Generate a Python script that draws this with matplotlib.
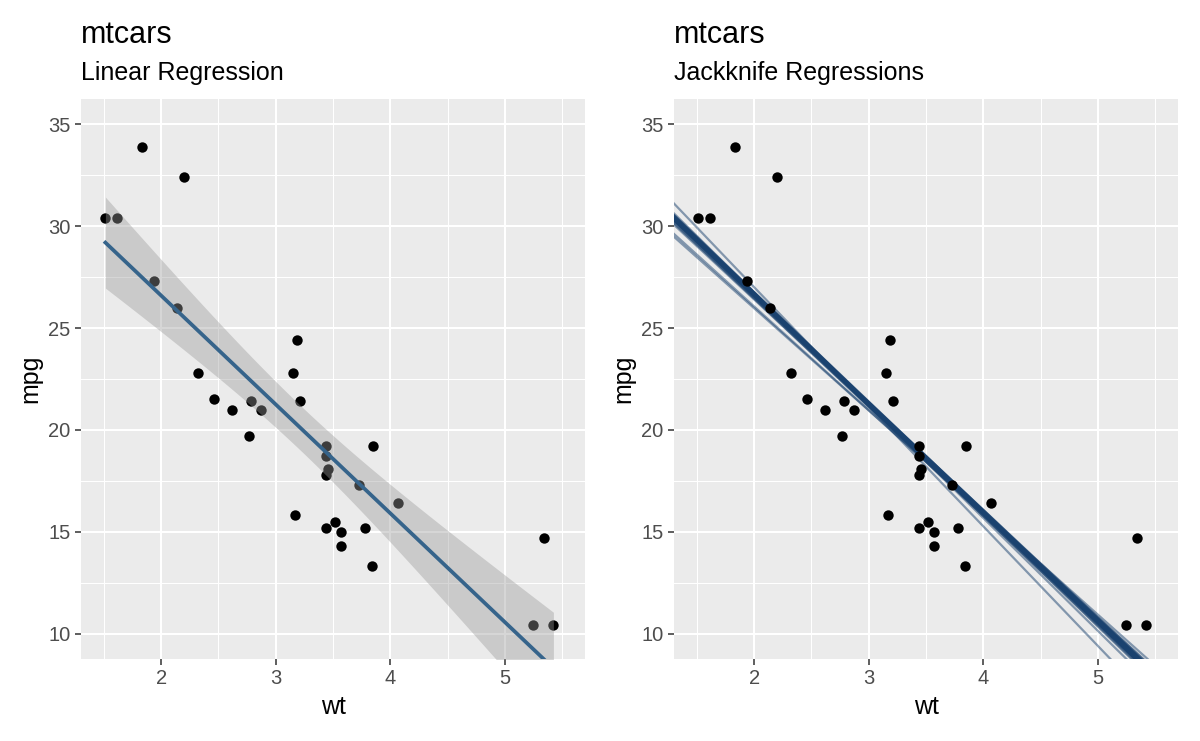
import numpy as np
import matplotlib
matplotlib.use("Agg")
import matplotlib.pyplot as plt
from matplotlib.ticker import MultipleLocator

# mtcars: weight (1000 lbs) and miles per gallon
wt = [2.620, 2.875, 2.320, 3.215, 3.440, 3.460, 3.570, 3.190, 3.150, 3.440,
      3.440, 4.070, 3.730, 3.780, 5.250, 5.424, 5.345, 2.200, 1.615, 1.835,
      2.465, 3.520, 3.435, 3.840, 3.845, 1.935, 2.140, 1.513, 3.170, 2.770,
      3.570, 2.780]
mpg = [21.0, 21.0, 22.8, 21.4, 18.7, 18.1, 14.3, 24.4, 22.8, 19.2,
       17.8, 16.4, 17.3, 15.2, 10.4, 10.4, 14.7, 32.4, 30.4, 33.9,
       21.5, 15.5, 15.2, 13.3, 19.2, 27.3, 26.0, 30.4, 15.8, 19.7,
       15.0, 21.4]

titles = ["mtcars", "mtcars"]
subtitles = ["Linear Regression", "Jackknife Regressions"]
x_ticks = [2, 3, 4, 5]
y_ticks = [10, 15, 20, 25, 30, 35]
x_lim = (1.5, 5.5)
y_lim = (10, 35)

PANEL = "#EBEBEB"
LINE = "#36648B"
JACK = "#1A426F"

plt.rcParams["font.family"] = ["Liberation Sans", "DejaVu Sans"]

x = np.array(wt)
y = np.array(mpg)
n = len(x)


def expand(lim, f=0.05):
    d = (lim[1] - lim[0]) * f
    return lim[0] - d, lim[1] + d


def style(ax):
    ax.set_facecolor(PANEL)
    for s in ax.spines.values():
        s.set_visible(False)
    ax.set_xlim(*expand(x_lim))
    ax.set_ylim(*expand(y_lim))
    ax.set_xticks(x_ticks)
    ax.set_yticks(y_ticks)
    ax.xaxis.set_minor_locator(MultipleLocator(0.5))
    ax.yaxis.set_minor_locator(MultipleLocator(2.5))
    ax.grid(which="major", color="white", linewidth=1.5)
    ax.grid(which="minor", color="white", linewidth=0.75)
    ax.tick_params(which="major", length=4.5, width=1.1, color="#333333",
                   labelsize=14.5, labelcolor="#4D4D4D", pad=3)
    ax.tick_params(which="minor", length=0)
    ax.set_axisbelow(True)
    ax.set_xlabel("wt", fontsize=18)
    ax.set_ylabel("mpg", fontsize=18)
    ax.xaxis.set_label_coords(0.5, -0.085)
    ax.yaxis.set_label_coords(-0.10, 0.5)
    ax.xaxis.label.set_va("center")
    ax.yaxis.label.set_va("center")


fig = plt.figure(figsize=(12, 7.41), dpi=100)
W, H = 1200, 741
ax1 = fig.add_axes([81 / W, (H - 659) / H, 504 / W, 560 / H])
ax2 = fig.add_axes([674 / W, (H - 659) / H, 504 / W, 560 / H])

# left: lm fit with 95% confidence band
style(ax1)
ax1.scatter(x, y, s=56, color="black", zorder=3, linewidths=0)
b, a = np.polyfit(x, y, 1)
xs = np.linspace(x.min(), x.max(), 80)
fit = a + b * xs
resid = y - (a + b * x)
s_err = np.sqrt(np.sum(resid ** 2) / (n - 2))
sxx = np.sum((x - x.mean()) ** 2)
se = s_err * np.sqrt(1 / n + (xs - x.mean()) ** 2 / sxx)
t_crit = 2.0423
ax1.fill_between(xs, fit - t_crit * se, fit + t_crit * se, color="#999999",
                 alpha=0.4, linewidth=0, zorder=4)
ax1.plot(xs, fit, color=LINE, linewidth=2.7, zorder=5)

# right: leave-one-out regressions across the full panel
style(ax2)
xl = np.array(ax2.get_xlim())
for i in range(n):
    keep = np.arange(n) != i
    bi, ai = np.polyfit(x[keep], y[keep], 1)
    ax2.plot(xl, ai + bi * xl, color=JACK, alpha=0.5, linewidth=1.6, zorder=3)
ax2.scatter(x, y, s=56, color="black", zorder=4, linewidths=0)

for ax, t, st in zip([ax1, ax2], titles, subtitles):
    x0 = ax.get_position().x0
    fig.text(x0, 1 - 43 / H, t, fontsize=22, ha="left", va="baseline")
    fig.text(x0, 1 - 80 / H, st, fontsize=18, ha="left", va="baseline")

fig.savefig("out.png", dpi=100, facecolor="white")
